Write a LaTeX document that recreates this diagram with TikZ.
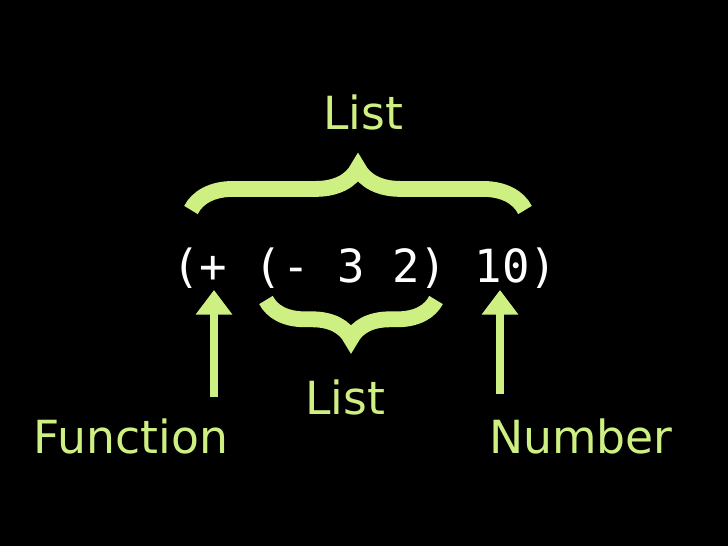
\documentclass[tikz,border=0pt]{standalone}
\usepackage{fontspec}
\setmainfont{DejaVu Sans}
\setmonofont{DejaVu Sans Mono}
\usetikzlibrary{decorations.pathreplacing, arrows.meta}
\definecolor{lime}{RGB}{206,240,130}
\tikzset{
        label/.style={text=lime, font=\fontsize{26}{30}\selectfont}, % green words
        code/.style={text=white, font=\ttfamily\fontsize{26}{30}\selectfont},
        bracket/.style={draw=lime, line width=9pt, decorate, decoration={brace, amplitude=#1}},
        pointer/.style={draw=lime, line width=5pt, -{Triangle[length=14pt, width=20pt]}},
    }
\begin{document}
\begin{tikzpicture}[x=0.02cm, y=-0.02cm]
    \fill[black] (0,0) rectangle (728,546);
    \useasboundingbox (0,0) rectangle (728,546);
    \node[code] (expr) at (365,268) {(+ (- 3 2) 10)};
    \node[label] (outer) at (363,112) {List};
    \node[label] (inner) at (345,397) {List};
    \node[label] (fun) at (131,436) {Function};
    \node[label] (num) at (581,436) {Number};
    \coordinate (ol) at (191,210);
    \coordinate (or) at (525,210);
    \coordinate (il) at (266,300);
    \coordinate (ir) at (436,300);
    \coordinate (fa) at (214,397);
    \coordinate (fb) at (214,290);
    \coordinate (na) at (500,394);
    \coordinate (nb) at (500,290);
    \draw[bracket=24pt] (ol) -- (or);
    \draw[bracket=22pt] (ir) -- (il);
    \draw[pointer] (fa) -- (fb);
    \draw[pointer] (na) -- (nb);
\end{tikzpicture}
\end{document}
